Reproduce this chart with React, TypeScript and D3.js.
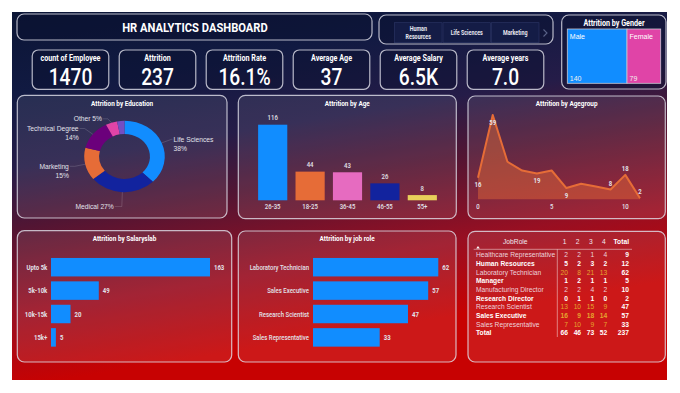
import React from "react";
import * as d3 from "d3";

// ---------- DATA ----------
const kpiLabels = ["count of Employee", "Attrition", "Attrition Rate", "Average Age", "Average Salary", "Average years"];
const kpiValues = ["1470", "237", "16.1%", "37", "6.5K", "7.0"];

const slicerItems = ["Human Resources", "Life Sciences", "Marketing"];

const genderCats = ["Male", "Female"];
const genderValues = [140, 79];

const eduCats = ["Life Sciences", "Medical", "Marketing", "Technical Degree", "Other", "Human Resources"];
const eduValues = [89, 63, 35, 32, 11, 7];

const ageCats = ["26-35", "18-25", "36-45", "46-55", "55+"];
const ageValues = [116, 44, 43, 26, 8];

const ageGroupIdx = [0, 1, 2, 3, 4, 5, 6, 7, 8, 9, 10, 11];
const ageGroupValues = [16, 59, 27, 21, 19, 21, 9, 12, 10, 8, 18, 2];
const ageGroupLabeled = [0, 1, 4, 6, 9, 10, 11];
const ageGroupTicks = [0, 5, 10];

const salaryCats = ["Upto 5k", "5k-10k", "10k-15k", "15k+"];
const salaryValues = [163, 49, 20, 5];

const roleCats = ["Laboratory Technician", "Sales Executive", "Research Scientist", "Sales Representative"];
const roleValues = [62, 57, 47, 33];

const tableRoles = [
  "Healthcare Representative", "Human Resources", "Laboratory Technician", "Manager",
  "Manufacturing Director", "Research Director", "Research Scientist", "Sales Executive", "Sales Representative",
];
const tableCols = ["1", "2", "3", "4"];
const level1 = [2, 5, 20, 1, 2, 0, 13, 16, 7];
const level2 = [2, 2, 8, 2, 2, 1, 10, 9, 10];
const level3 = [1, 3, 21, 1, 4, 1, 15, 18, 9];
const level4 = [4, 2, 13, 1, 2, 0, 9, 14, 7];

// ---------- STYLE ----------
const DIN = "Roboto, 'DejaVu Sans', sans-serif";
const SEGOE = "'Liberation Sans', Arial, sans-serif";
const palette = ["#118DFF", "#12239E", "#E66C37", "#6B007B", "#E044A7", "#744EC2", "#D9B300"];
const ageColors = ["#118DFF", "#E66C37", "#E66BC0", "#12239E", "#E8CF5A"];
const LABEL = "#e2e2ea";
const PANEL_FILL = "rgba(255,255,255,0.09)";
const PANEL_STROKE = "rgba(225,225,235,0.8)";
const GOLD = "#e6a42e";

const CT = ({ x, y, s = 0.8, children, ...rest }: any) => (
  <text transform={`translate(${x},${y}) scale(${s},1)`} {...rest}>
    {children}
  </text>
);

const Panel = ({ x, y, w, h, title, ty, fs = 8 }: any) => (
  <g>
    <rect x={x} y={y} width={w} height={h} rx={7} fill={PANEL_FILL} stroke={PANEL_STROKE} strokeWidth={1.2} />
    {title && (
      <CT x={x + w / 2} y={ty} textAnchor="middle" fontFamily={DIN} fontWeight={700} fontSize={fs} fill="#fff">
        {title}
      </CT>
    )}
  </g>
);

export default function App() {
  // KPI cards
  const kpiX = d3.scaleBand<string>().domain(kpiLabels).range([27, 549]).paddingInner(0.12).paddingOuter(0.06);

  // slicer
  const slX = d3.scaleBand<string>().domain(slicerItems).range([394.5, 539]).paddingInner(0.02);

  // gender treemap
  const gSum = d3.sum(genderValues);
  const gX = d3.scaleLinear().domain([0, gSum]).range([567.3, 660.7]);
  const gCum = genderValues.map((_, i) => d3.sum(genderValues.slice(0, i)));

  // donut
  const eduTotal = d3.sum(eduValues);
  const pie = d3.pie<number>().sort(null).value((d) => d)(eduValues);
  const arc = d3.arc<any>().innerRadius(24).outerRadius(38);
  const cx = 124.5, cy = 156.5, sx = 1.06, sy = 0.94, RL = 48;

  // age bars
  const ageX = d3.scaleBand<string>().domain(ageCats).range([254, 441]).paddingInner(0.22).paddingOuter(0.11);
  const ageY = d3.scaleLinear().domain([0, d3.max(ageValues)!]).range([200.3, 124.7]);

  // agegroup area
  const agX = d3.scaleLinear().domain([0, 10]).range([478, 625.3]);
  const agYmin = 1.3; // axis begins just below the smallest value
  const agY = d3.scaleLinear().domain([agYmin, d3.max(ageGroupValues)!]).range([199.3, 115]);
  const base = agY(agYmin);
  const lineGen = d3.line<number>().x((_, i) => agX(ageGroupIdx[i])).y((d) => agY(d));
  const areaGen = d3.area<number>().x((_, i) => agX(ageGroupIdx[i])).y0(base).y1((d) => agY(d));

  // salary bars
  const salY = d3.scaleBand<string>().domain(salaryCats).range([255.5, 349.1]).paddingInner(0.21).paddingOuter(0.105);
  const salX = d3.scaleLinear().domain([0, d3.max(salaryValues)!]).range([51, 210]);

  // role bars
  const roleY = d3.scaleBand<string>().domain(roleCats).range([255.5, 349.1]).paddingInner(0.21).paddingOuter(0.105);
  const roleX = d3.scaleLinear().domain([0, d3.max(roleValues)!]).range([313, 438.3]);

  // table
  const levels = [level1, level2, level3, level4];
  const rowTotals = tableRoles.map((_, i) => d3.sum(levels.map((l) => l[i])));
  const colTotals = levels.map((l) => d3.sum(l));
  const grand = d3.sum(rowTotals);
  const colX = d3.scalePoint<string>().domain(tableCols).range([568, 607.3]);
  const totX = 629;
  const rowY = d3.scaleBand<string>().domain([...tableRoles, "Total"]).range([250.35, 337.35]);

  return (
    <svg width={680} height={393} style={{ position: "absolute", left: 0, top: 0, display: "block" }}>
      <defs>
        <linearGradient id="bg" gradientUnits="userSpaceOnUse" x1="0" y1="12" x2="60" y2="380">
          <stop offset="0" stopColor="#0b1535" />
          <stop offset="0.22" stopColor="#111a42" />
          <stop offset="0.42" stopColor="#251c48" />
          <stop offset="0.58" stopColor="#521533" />
          <stop offset="0.8" stopColor="#980f22" />
          <stop offset="1" stopColor="#c70202" />
        </linearGradient>
      </defs>
      <rect x={0} y={0} width={680} height={393} fill="#fff" />
      <rect x={12} y={12} width={655} height={368} fill="url(#bg)" />

      {/* Title */}
      <rect x={17} y={14} width={355} height={26} rx={7} fill="rgba(10,16,45,0.4)" stroke={PANEL_STROKE} strokeWidth={1.2} />
      <CT x={195} y={31.8} s={0.86} textAnchor="middle" fontFamily={DIN} fontWeight={700} fontSize={13} fill="#fff">
        HR ANALYTICS DASHBOARD
      </CT>

      {/* Slicer */}
      <rect x={379} y={15} width={174} height={29} rx={7} fill="rgba(10,16,45,0.4)" stroke={PANEL_STROKE} strokeWidth={1.2} />
      {slicerItems.map((s) => {
        const x0 = slX(s)!;
        const bw = slX.bandwidth();
        const lines = s.length > 14 ? s.split(" ") : [s];
        return (
          <g key={s}>
            <rect x={x0} y={22.7} width={bw} height={20} fill="#141c46" stroke="#2e3868" strokeWidth={0.6} />
            {lines.map((ln, j) => (
              <CT key={j} x={x0 + bw / 2} y={32.7 + (j - (lines.length - 1) / 2) * 7.7 + 2.2} s={0.85}
                textAnchor="middle" fontFamily={DIN} fontWeight={700} fontSize={6.3} fill="#e8e8f0">
                {ln}
              </CT>
            ))}
          </g>
        );
      })}
      <path d="M543.5,29.5 L547,33 L543.5,36.5" fill="none" stroke="#5a6288" strokeWidth={1.1} />

      {/* Gender */}
      <rect x={561.7} y={15} width={104.3} height={74} rx={7} fill="rgba(10,16,45,0.4)" stroke={PANEL_STROKE} strokeWidth={1.2} />
      <CT x={614} y={26} textAnchor="middle" fontFamily={DIN} fontWeight={700} fontSize={9} fill="#fff">
        Attrition by Gender
      </CT>
      {genderCats.map((c, i) => {
        const x0 = gX(gCum[i]);
        const x1 = gX(gCum[i] + genderValues[i]);
        return (
          <g key={c}>
            <rect x={x0} y={29} width={x1 - x0} height={54.3} fill={i === 0 ? palette[0] : palette[4]} stroke="#c8c8d2" strokeWidth={0.8} />
            <text x={x0 + 2.5} y={39} fontFamily={SEGOE} fontSize={7} fill="#fff">{c}</text>
            <text x={x0 + 2.5} y={81} fontFamily={SEGOE} fontSize={7} fill="#f0f0f0">{genderValues[i]}</text>
          </g>
        );
      })}

      {/* KPI cards */}
      {kpiLabels.map((k, i) => {
        const x0 = kpiX(k)!;
        const bw = kpiX.bandwidth();
        return (
          <g key={k}>
            <rect x={x0} y={50} width={bw} height={39.3} rx={6} fill="rgba(10,16,45,0.4)" stroke={PANEL_STROKE} strokeWidth={1.2} />
            <CT x={x0 + bw / 2} y={60.5} textAnchor="middle" fontFamily={DIN} fontWeight={700} fontSize={9} fill="#fff">
              {k}
            </CT>
            <CT x={x0 + bw / 2} y={85} textAnchor="middle" fontFamily={DIN} fontWeight={500} fontSize={24} fill="#fff">
              {kpiValues[i]}
            </CT>
          </g>
        );
      })}

      {/* Middle row panels */}
      <Panel x={17.3} y={95.3} w={209.7} h={122.7} title="Attrition by Education" ty={105.5} />
      <Panel x={238.3} y={95.3} w={218} h={123.4} title="Attrition by Age" ty={105.5} />
      <Panel x={468} y={96} w={197.3} h={122.7} title="Attrition by Agegroup" ty={105.5} />

      {/* Donut */}
      <g transform={`translate(${cx},${cy}) scale(${sx},${sy})`}>
        {pie.map((p, i) => (
          <path key={eduCats[i]} d={arc(p)!} fill={palette[[0, 1, 2, 3, 4, 5][i]]} />
        ))}
      </g>
      {pie.slice(0, 5).map((p, i) => {
        const a = (p.startAngle + p.endAngle) / 2;
        const sn = Math.sin(a), cs = Math.cos(a);
        const ex = cx + 38 * sn * sx, ey = cy - 38 * cs * sy;
        let px = cx + RL * sn * sx;
        let py = cy - RL * cs * sy;
        const pct = Math.round((eduValues[i] / eduTotal) * 100) + "%";
        const name = eduCats[i];
        const lines = name.length > 8 ? [name, pct] : [name + " " + pct];
        let anchor = "end";
        let lx = px;
        if (sn > 0.3) { anchor = "start"; lx = px + 2; }
        else if (sn < -0.3) { lx = px - 6; }
        else { lx = px - 8; }
        if (lines.length === 1) py += 5;
        return (
          <g key={name}>
            <polyline points={`${ex},${ey} ${px},${py} ${anchor === "start" ? lx - 1 : lx + 1},${py}`} fill="none" stroke="rgba(255,255,255,0.25)" strokeWidth={0.6} />
            {lines.map((ln, j) => (
              <text key={j} x={lx} y={py + 2.3 + j * 9} textAnchor={anchor} fontFamily={SEGOE} fontSize={6.7} fill={LABEL}>
                {ln}
              </text>
            ))}
          </g>
        );
      })}

      {/* Age bars */}
      {ageCats.map((c, i) => {
        const x0 = ageX(c)!;
        const bw = ageX.bandwidth();
        return (
          <g key={c}>
            <rect x={x0} y={ageY(ageValues[i])} width={bw} height={ageY(0) - ageY(ageValues[i])} fill={ageColors[i]} />
            <CT x={x0 + bw / 2} y={ageY(ageValues[i]) - 4.3} textAnchor="middle" fontFamily={DIN} fontWeight={500} fontSize={7.5} fill={LABEL}>
              {ageValues[i]}
            </CT>
            <CT x={x0 + bw / 2} y={209} textAnchor="middle" fontFamily={DIN} fontWeight={500} fontSize={7.5} fill={LABEL}>
              {c}
            </CT>
          </g>
        );
      })}

      {/* Agegroup area */}
      <path d={areaGen(ageGroupValues)!} fill="#E66C37" fillOpacity={0.45} />
      <path d={lineGen(ageGroupValues)!} fill="none" stroke="#E66C37" strokeWidth={2} strokeLinejoin="round" />
      {ageGroupTicks.map((t) => (
        <CT key={t} x={agX(t)} y={209} textAnchor="middle" fontFamily={DIN} fontWeight={500} fontSize={7.5} fill={LABEL}>
          {t}
        </CT>
      ))}
      {ageGroupLabeled.map((i) => {
        const v = ageGroupValues[i];
        const px = agX(ageGroupIdx[i]);
        const py = agY(v);
        const prev = i > 0 ? ageGroupValues[i - 1] : -Infinity;
        const next = i < ageGroupValues.length - 1 ? ageGroupValues[i + 1] : -Infinity;
        const localMax = v >= prev && v >= next;
        const fitsAbove = py - 12 > 112;
        const fitsBelow = py + 10 < base;
        const above = (localMax && fitsAbove) || !fitsBelow;
        return (
          <CT key={i} x={px} y={above ? py - 4 : py + 9.5} textAnchor="middle" fontFamily={DIN} fontWeight={700} fontSize={7.5} fill={LABEL}>
            {v}
          </CT>
        );
      })}

      {/* Bottom row panels */}
      <Panel x={17.3} y={230.7} w={214.4} h={131.3} title="Attrition by Salaryslab" ty={240.8} />
      <Panel x={238.3} y={231} w={217.7} h={131} title="Attrition by job role" ty={240.8} />
      <Panel x={468} y={231.3} w={197.3} h={130.7} />

      {/* Salary bars */}
      {salaryCats.map((c, i) => {
        const y0 = salY(c)!;
        const bh = salY.bandwidth();
        return (
          <g key={c}>
            <rect x={salX(0)} y={y0} width={salX(salaryValues[i]) - salX(0)} height={bh} fill={palette[0]} />
            <CT x={47.3} y={y0 + bh / 2 + 2.6} textAnchor="end" fontFamily={DIN} fontWeight={700} fontSize={7.5} fill={LABEL}>
              {c}
            </CT>
            <CT x={salX(salaryValues[i]) + 4} y={y0 + bh / 2 + 2.6} fontFamily={DIN} fontWeight={700} fontSize={7.5} fill={LABEL}>
              {salaryValues[i]}
            </CT>
          </g>
        );
      })}

      {/* Role bars */}
      {roleCats.map((c, i) => {
        const y0 = roleY(c)!;
        const bh = roleY.bandwidth();
        return (
          <g key={c}>
            <rect x={roleX(0)} y={y0} width={roleX(roleValues[i]) - roleX(0)} height={bh} fill={palette[0]} />
            <CT x={309} y={y0 + bh / 2 + 2.6} textAnchor="end" fontFamily={DIN} fontWeight={500} fontSize={7.5} fill={LABEL}>
              {c}
            </CT>
            <CT x={roleX(roleValues[i]) + 4} y={y0 + bh / 2 + 2.6} fontFamily={DIN} fontWeight={700} fontSize={7.5} fill={LABEL}>
              {roleValues[i]}
            </CT>
          </g>
        );
      })}

      {/* Matrix table */}
      <g fontFamily={SEGOE} fontSize={6.7}>
        <text x={515.3} y={243.6} textAnchor="middle" fill="#f0e8ee">JobRole</text>
        {tableCols.map((c) => (
          <text key={c} x={colX(c)! - 1.5} y={243.6} textAnchor="end" fill="#f0e8ee">{c}</text>
        ))}
        <text x={totX} y={243.6} textAnchor="end" fontWeight={700} fill="#fff">Total</text>
        <path d="M476.2,248.6 L478,246 L479.8,248.6 Z" fill="#fff" />
        <line x1={473.7} x2={632} y1={249.3} y2={249.3} stroke="rgba(255,255,255,0.65)" strokeWidth={0.7} />
        <line x1={557.3} x2={557.3} y1={249.3} y2={337} stroke="rgba(255,255,255,0.65)" strokeWidth={0.7} />
        {tableRoles.map((r, i) => {
          const y = rowY(r)! + rowY.bandwidth() / 2 + 2.4;
          const strong = i % 2 === 1;
          const base = strong ? "#ffffff" : "#ecd2dc";
          return (
            <g key={r}>
              <text x={476} y={y} fill={base} fontWeight={strong ? 700 : 400}>{r}</text>
              {tableCols.map((c, k) => {
                const v = levels[k][i];
                return (
                  <text key={c} x={colX(c)!} y={y} textAnchor="end" fill={v >= 7 ? GOLD : base} fontWeight={strong ? 700 : 400}>
                    {v}
                  </text>
                );
              })}
              <text x={totX} y={y} textAnchor="end" fill="#fff" fontWeight={700}>{rowTotals[i]}</text>
            </g>
          );
        })}
        {(() => {
          const y = rowY("Total")! + rowY.bandwidth() / 2 + 2.4;
          return (
            <g>
              <text x={476} y={y} fill="#fff" fontWeight={700}>Total</text>
              {tableCols.map((c, k) => (
                <text key={c} x={colX(c)!} y={y} textAnchor="end" fill="#fff" fontWeight={700}>{colTotals[k]}</text>
              ))}
              <text x={totX} y={y} textAnchor="end" fill="#fff" fontWeight={700}>{grand}</text>
            </g>
          );
        })()}
      </g>
    </svg>
  );
}
